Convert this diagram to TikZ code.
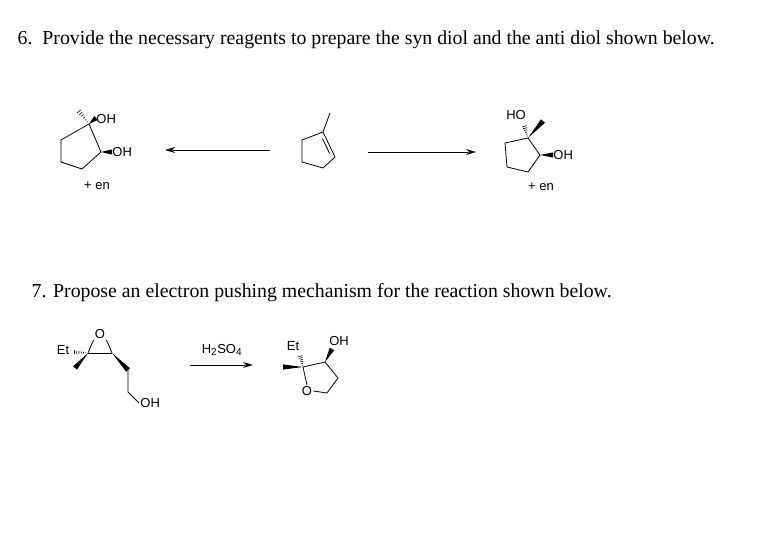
\documentclass[tikz,border=0pt]{standalone}
\usepackage{fontspec}
\setmainfont{Liberation Serif}
\newfontfamily\lab{Liberation Sans}
\usetikzlibrary{calc,arrows.meta}
\newcommand{\wdg}[2]{\fill (#1) -- ($(#2)!2.6pt!90:(#1)$) -- ($(#2)!2.6pt!-90:(#1)$) -- cycle;}
\newcommand{\hsh}[2]{\foreach \t in {0.15,0.3,...,1.0}{\draw[line width=0.6pt] ($(#1)!\t!(#2)!{\t*2.6pt}!90:(#1)$) -- ($(#1)!\t!(#2)!{\t*2.6pt}!-90:(#1)$);}}
\newcommand{\arw}[2]{\draw (#1)--($(#2)!8pt!(#1)$); \fill (#2) -- ($(#2)!10pt!(#1)!3pt!90:(#2)$) -- ($(#2)!7pt!(#1)$) -- ($(#2)!10pt!(#1)!3pt!-90:(#2)$) -- cycle;}
\begin{document}
\begin{tikzpicture}[x=1pt,y=-1pt,line width=0.8pt,
  q/.style={anchor=west,font=\fontsize{19.8}{22}\selectfont},
  lb/.style={font=\lab\fontsize{13}{14}\selectfont,inner sep=1pt}]
\useasboundingbox (0,0) rectangle (773,537);
\node[q] (q6) at (14,40) {6.\ \ Provide the necessary reagents to prepare the syn diol and the anti diol shown below.};
\node[q] (q7) at (28,293) {7. Propose an electron pushing mechanism for the reaction shown below.};
% left syn diol
\coordinate (a1) at (89,124); \coordinate (a2) at (101,152); \coordinate (a3) at (82,169);
\coordinate (a4) at (61,162); \coordinate (a5) at (61,140);
\draw (a1)--(a2)--(a3)--(a4)--(a5)--cycle;
\coordinate (am) at (78,110); \hsh{a1}{am}
\coordinate (ao1) at (96,118); \wdg{a1}{ao1}
\node[lb,anchor=west] (aoh1) at (95,119) {OH};
\coordinate (ao2) at (112,152); \wdg{a2}{ao2}
\node[lb,anchor=west] (aoh2) at (111,152) {OH};
\node[lb] (aen) at (97,186) {+ en};
% alkene
\coordinate (b1) at (323,132); \coordinate (b2) at (335,157); \coordinate (b3) at (323,168);
\coordinate (b4) at (302,162); \coordinate (b5) at (302,140); \coordinate (bm) at (330,113);
\draw (b1)--(b2)--(b3)--(b4)--(b5)--cycle; \draw (b1)--(bm);
\draw ($(b1)!0.2!(b2)+(-3,1.5)$) -- ($(b1)!0.8!(b2)+(-3,1.5)$);
\coordinate (l1) at (270,150); \coordinate (l2) at (165,150);
\arw{l1}{l2}
\coordinate (r1) at (368,152); \coordinate (r2) at (476,152);
\arw{r1}{r2}
% right anti diol
\coordinate (c1) at (528,138); \coordinate (c2) at (540,155); \coordinate (c3) at (528,172);
\coordinate (c4) at (507,167); \coordinate (c5) at (505,143);
\draw (c1)--(c2)--(c3)--(c4)--(c5)--cycle;
\coordinate (cm) at (543,121); \wdg{c1}{cm}
\coordinate (ch) at (524,125); \hsh{c1}{ch}
\node[lb] (cho) at (516,115) {HO};
\coordinate (co2) at (553,155); \wdg{c2}{co2}
\node[lb,anchor=west] (coh2) at (552,155) {OH};
\node[lb] (cen) at (541,187) {+ en};
% epoxide
\node[lb] (et1) at (63,350) {Et};
\node[lb] (eo) at (100,334) {O};
\coordinate (e1) at (88,353); \coordinate (e2) at (112,353);
\draw (e1)--(e2); \draw (e1)--(eo.south west); \draw (e2)--(eo.south east);
\coordinate (eh) at (73,352); \hsh{e1}{eh}
\coordinate (em) at (75,368); \wdg{e1}{em}
\coordinate (e3) at (128,370); \wdg{e2}{e3}
\coordinate (e4) at (128,392);
\node[lb,anchor=west] (eoh) at (139,403) {OH};
\draw (e3)--(e4)--(eoh.west);
\coordinate (p1) at (190,365); \coordinate (p2) at (253,365);
\arw{p1}{p2}
\node[lb] (h2so4) at (222,350) {H\textsubscript{\fontsize{10}{10}\selectfont 2}SO\textsubscript{\fontsize{10}{10}\selectfont 4}};
% THF product
\node[lb] (et2) at (293,346) {Et};
\node[lb] (fo) at (307,391) {O};
\coordinate (f2) at (303,367); \coordinate (f3) at (325,362);
\coordinate (f4) at (338,378); \coordinate (f5) at (327,393);
\draw (fo.north)--(f2)--(f3)--(f4)--(f5)--(fo.east);
\coordinate (fm) at (283,367); \wdg{f2}{fm}
\coordinate (fe) at (300,355); \hsh{f2}{fe}
\coordinate (fo2) at (332,349); \wdg{f3}{fo2}
\node[lb] (foh) at (339,341) {OH};
\end{tikzpicture}
\end{document}
